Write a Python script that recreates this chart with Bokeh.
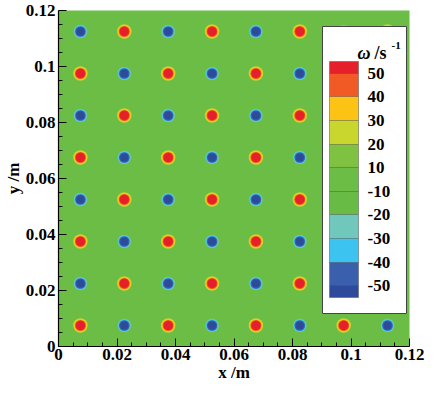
from bokeh.plotting import figure
from bokeh.models import (Range1d, FixedTicker, LinearColorMapper, ColorBar,
                          BoxAnnotation, Label)
from bokeh.embed import file_html
from bokeh.resources import INLINE

# ---------------- data ----------------
vortex_x = [0.0075, 0.0225, 0.0375, 0.0525, 0.0675, 0.0825, 0.0975, 0.1125]
vortex_y = [0.0075, 0.0225, 0.0375, 0.0525, 0.0675, 0.0825, 0.0975, 0.1125]
# sign of vorticity at each vortex, rows from bottom (y=0.0075) to top (+1 red, -1 blue)
vortex_sign = [
    [ 1, -1,  1, -1,  1, -1,  1, -1],
    [-1,  1, -1,  1, -1,  1, -1,  1],
    [ 1, -1,  1, -1,  1, -1,  1, -1],
    [-1,  1, -1,  1, -1,  1, -1,  1],
    [ 1, -1,  1, -1,  1, -1,  1, -1],
    [-1,  1, -1,  1, -1,  1, -1,  1],
    [ 1, -1,  1, -1,  1, -1,  1, -1],
    [-1,  1, -1,  1, -1,  1, -1,  1],
]
axis_ticks = [0, 0.02, 0.04, 0.06, 0.08, 0.1, 0.12]
axis_tick_labels = ["0", "0.02", "0.04", "0.06", "0.08", "0.1", "0.12"]
minor_ticks = [0.005, 0.01, 0.015, 0.025, 0.03, 0.035, 0.045, 0.05, 0.055,
               0.065, 0.07, 0.075, 0.085, 0.09, 0.095, 0.105, 0.11, 0.115]
levels = [-50, -40, -30, -20, -10, 10, 20, 30, 40, 50]
# band colours from lowest (< -50) to highest (> 50)
level_colors = ["#2d4a9b", "#3a5fad", "#3cc3f0", "#70c8bc", "#68bc46", "#6bbd45",
                "#7fc241", "#c8d62e", "#fcc314", "#f15a24", "#e6202a"]
background_color = "#6bbd45"
pos_ring_colors = ["#c8d62e", "#fcc314", "#f15a24", "#e6202a"]
pos_ring_sizes = [14.5, 13, 11, 9.5]
neg_ring_colors = ["#70c8bc", "#3cc3f0", "#3a5fad", "#2d4a9b"]
neg_ring_sizes = [13.5, 12, 10.5, 8]

FONT = "Liberation Serif"

# ---------------- figure ----------------
p = figure(frame_width=351, frame_height=336, output_backend="svg",
           toolbar_location=None, x_range=Range1d(0, 0.12), y_range=Range1d(0, 0.12),
           min_border_left=53, min_border_right=23, min_border_top=10, min_border_bottom=10)
p.background_fill_color = background_color
p.border_fill_color = "white"
p.outline_line_color = None
p.grid.visible = False

px, py, nx, ny = [], [], [], []
for j, yv in enumerate(vortex_y):
    for i, xv in enumerate(vortex_x):
        if vortex_sign[j][i] > 0:
            px.append(xv); py.append(yv)
        else:
            nx.append(xv); ny.append(yv)

for c, s in zip(pos_ring_colors, pos_ring_sizes):
    p.scatter(px, py, size=s, marker="circle", fill_color=c, line_color=None)
for c, s in zip(neg_ring_colors, neg_ring_sizes):
    p.scatter(nx, ny, size=s, marker="circle", fill_color=c, line_color=None)

overrides = {t: l for t, l in zip(axis_ticks, axis_tick_labels)}
for ax in (p.xaxis[0], p.yaxis[0]):
    ax.ticker = FixedTicker(ticks=axis_ticks, minor_ticks=minor_ticks)
    ax.major_label_overrides = overrides
    ax.major_tick_in = 8
    ax.major_tick_out = 0
    ax.minor_tick_in = 4
    ax.minor_tick_out = 0
    ax.axis_line_color = "black"
    ax.axis_line_width = 1.2
    ax.major_tick_line_color = "black"
    ax.minor_tick_line_color = "black"
    ax.major_label_text_font = FONT
    ax.major_label_text_font_style = "bold"
    ax.major_label_text_font_size = "17px"
    ax.major_label_text_color = "black"
    ax.axis_label_text_font = FONT
    ax.axis_label_text_font_style = "bold"
    ax.axis_label_text_font_size = "17px"
    ax.axis_label_text_color = "black"
    ax.major_label_standoff = 2
    ax.axis_label_standoff = 0

p.yaxis[0].major_label_standoff = 3
p.xaxis[0].axis_label = "x /m"
p.yaxis[0].axis_label = "y /m"

# ---------------- colour legend ----------------
legend_box = BoxAnnotation(left=264, right=348, bottom=33, top=320,
                           left_units="screen", right_units="screen",
                           bottom_units="screen", top_units="screen",
                           fill_color="white", fill_alpha=1.0,
                           line_color="#444444", line_width=1, line_alpha=1.0)
p.add_layout(legend_box)

n_lv = len(levels)
palette = [level_colors[0]]
for c in level_colors[1:-1]:
    palette += [c, c]
palette.append(level_colors[-1])
mapper = LinearColorMapper(palette=palette, low=0, high=n_lv)
bar_ticks = [k + 0.5 for k in range(n_lv)]
cb = ColorBar(color_mapper=mapper, location=(271, 49), width=29, height=236,
              ticker=FixedTicker(ticks=bar_ticks),
              major_label_overrides={t: str(v) for t, v in zip(bar_ticks, levels)},
              major_label_text_font=FONT, major_label_text_font_style="bold",
              major_label_text_font_size="17px", major_label_text_color="black",
              label_standoff=9,
              major_tick_in=29, major_tick_out=0, major_tick_line_color="#555555",
              major_tick_line_alpha=0.5, bar_line_color="#666666", bar_line_alpha=0.6,
              padding=0, background_fill_alpha=0.0, border_line_color=None)
p.add_layout(cb)

title_kw = dict(x_units="screen", y_units="screen", text_font=FONT,
                text_color="black", text_baseline="alphabetic")
p.add_layout(Label(x=299, y=294, text="ω", text_font_size="18px",
                   text_font_style="bold italic", **title_kw))
p.add_layout(Label(x=316, y=294, text="/s", text_font_size="18px",
                   text_font_style="bold", **title_kw))
p.add_layout(Label(x=333, y=301, text="-1", text_font_size="11px",
                   text_font_style="bold", **title_kw))

open("out.html", "w").write(file_html(p, INLINE))
